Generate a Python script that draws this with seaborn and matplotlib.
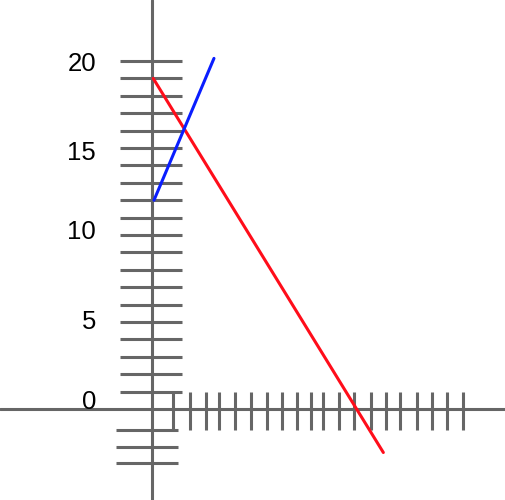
import numpy as np
import pandas as pd
import matplotlib
matplotlib.use("Agg")
import matplotlib.pyplot as plt
import seaborn as sns

# data (x in tick units, y in value units)
blue_x = [0.13, 4.05]
blue_y = [12.0, 20.15]
red_x = [0.08, 15.12]
red_y = [19.0, -2.5]

ytick_above = list(range(1, 21))
ytick_below = [-1.2, -2.2, -3.1]
xtick_pos = [1.4, 2.5, 3.5, 4.4, 5.4, 6.5, 7.5, 8.5, 9.5, 10.4,
             11.2, 12.2, 13.2, 14.3, 15.3, 16.2, 17.3, 18.3, 19.3, 20.3]

ylabels = ["20", "15", "10", "5", "0"]
ylabel_pos = [19.8, 14.7, 10.2, 5.0, 0.4]

sns.set_style("white")
plt.rcParams['font.family'] = ['Liberation Sans', 'DejaVu Sans']

fig = plt.figure(figsize=(5.06, 5.0), dpi=100)
ax = fig.add_axes([0, 0, 1, 1])
ax.set_xlim(-152 / 15.3, (506 - 152) / 15.3)
ax.set_ylim((409 - 500) / 17.4, 409 / 17.4)
ax.axis("off")

gray = "#666666"
lw = 2.2

# axes
ax.axhline(0, color=gray, lw=lw, zorder=1)
ax.axvline(0, color=gray, lw=lw, zorder=1)

# tick marks
ax.hlines(ytick_above, -2.1, 1.95, color=gray, lw=lw, zorder=1)
ax.hlines(ytick_below, -2.35, 1.7, color=gray, lw=lw, zorder=1)
ax.vlines(xtick_pos, -1.2, 0.98, color=gray, lw=lw, zorder=1)

# labels
for lab, yp in zip(ylabels, ylabel_pos):
    ax.text(-3.66, yp, lab, ha="right", va="center", fontsize=18.5, color="black")

df = pd.concat([
    pd.DataFrame({"x": red_x, "y": red_y, "s": "red"}),
    pd.DataFrame({"x": blue_x, "y": blue_y, "s": "blue"}),
])
sns.lineplot(data=df, x="x", y="y", hue="s", palette={"red": "#ff0d1a", "blue": "#0a1eff"},
             estimator=None, sort=False, lw=2.2, legend=False, ax=ax, zorder=3)

fig.savefig("out.png", dpi=100)
